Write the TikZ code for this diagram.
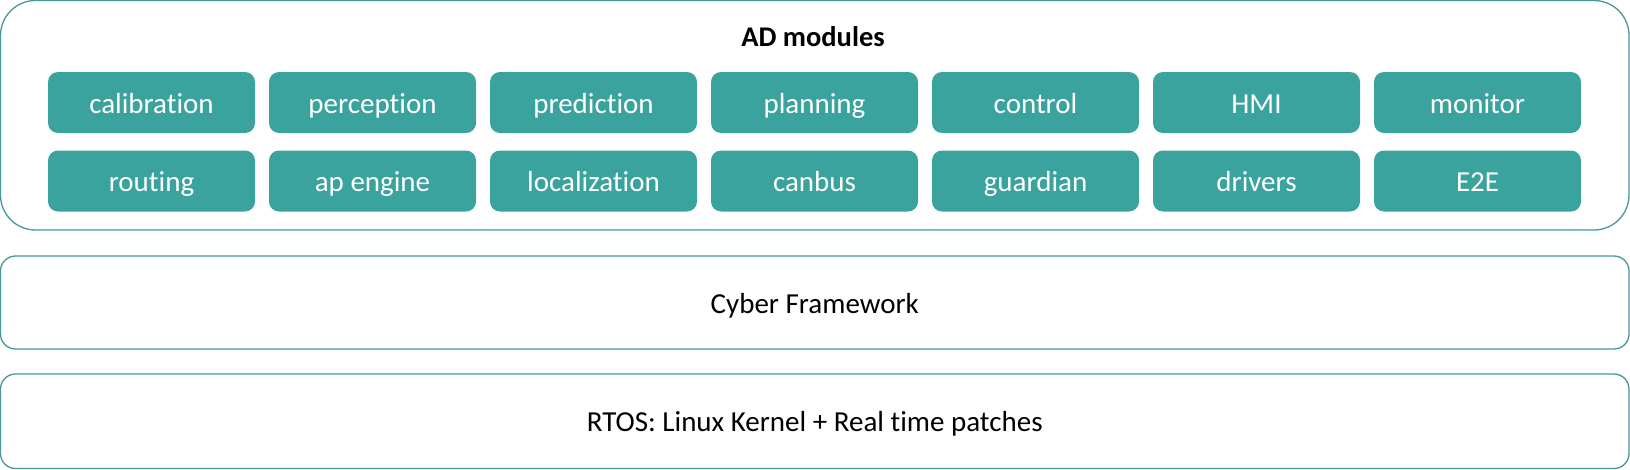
\documentclass[tikz,border=0pt]{standalone}
\usepackage{fontspec}
\setmainfont{Carlito}[Ligatures=NoCommon]
\definecolor{tealfill}{RGB}{58,163,157}
\definecolor{tealline}{RGB}{72,152,152}
\begin{document}
\begin{tikzpicture}[x=1pt,y=1pt,
  layerbox/.style={draw=tealline, line width=1.3pt, fill=white, inner sep=0pt, minimum width=1628.5pt, text=black, font=\fontsize{29}{34}\selectfont, text height=27pt, text depth=6pt},
  modbox/.style={fill=tealfill, draw=none, rounded corners=10pt, minimum width=207pt, minimum height=61pt, inner sep=0pt, text=white, font=\fontsize{29}{34}\selectfont, text height=27pt, text depth=6pt},
  titletext/.style={font=\bfseries\fontsize{28.5}{34}\selectfont, text=black, inner sep=0pt}
]
\useasboundingbox (0,0) rectangle (1630,-469);
\node[layerbox, rounded corners=35pt, minimum height=229.5pt] (ad) at (814.75,-115.25) {};
\node[layerbox, rounded corners=15pt, minimum height=93pt] (cyber) at (814.75,-302.5) {Cyber Framework};
\node[layerbox, rounded corners=15pt, minimum height=94.5pt] (rtos) at (814.75,-421.25) {RTOS: Linux Kernel + Real time patches};
\node[titletext, anchor=base] (title) at (813,-46) {AD modules};
\foreach \t [count=\i from 0] in {calibration,perception,prediction,planning,control,HMI,monitor}
  \node[modbox] (a\i) at (151.5+221*\i,-102.5) {\t};
\foreach \t [count=\i from 0] in {routing,ap engine,localization,canbus,guardian,drivers,E2E}
  \node[modbox] (b\i) at (151.5+221*\i,-181) {\t};
\end{tikzpicture}
\end{document}
